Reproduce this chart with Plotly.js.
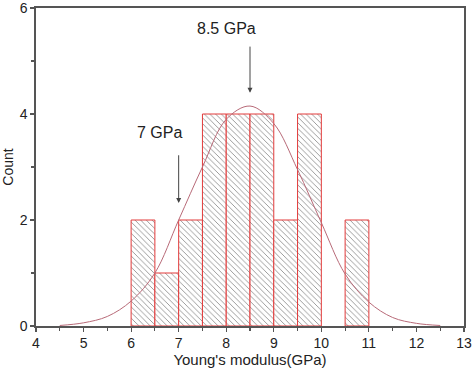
<!DOCTYPE html>
<html>
<head>
<meta charset="utf-8">
<script src="https://cdn.plot.ly/plotly-3.0.1.min.js"></script>
<style>html,body{margin:0;padding:0;background:#fff;}#chart{width:474px;height:372px;}</style>
</head>
<body>
<div id="chart"></div>
<script>
// Histogram bins (GPa) and counts
var binCenters = [6.25, 6.75, 7.25, 7.75, 8.25, 8.75, 9.25, 9.75, 10.75];
var counts = [2, 1, 2, 4, 4, 4, 2, 4, 2];
// Fitted normal curve
var curveX = [4.5, 5.0, 5.5, 6.0, 6.5, 7.0, 7.5, 8.0, 8.5, 9.0, 9.5, 10.0, 10.5, 11.0, 11.5, 12.0, 12.5];
var curveY = [0.01, 0.06, 0.18, 0.47, 1.0, 2.0, 3.0, 3.9, 4.15, 3.82, 2.95, 1.95, 0.98, 0.45, 0.16, 0.05, 0.01];
var xTicks = [4, 5, 6, 7, 8, 9, 10, 11, 12, 13];
var yTicks = [0, 2, 4, 6];

var axisColor = '#555555';
var traces = [
  {
    type: 'bar', x: binCenters, y: counts, width: 0.5,
    marker: {
      color: '#ffffff',
      line: {color: '#e23b3b', width: 1},
      pattern: {shape: '\\', fgcolor: '#8f8f8f', bgcolor: '#ffffff', size: 4, solidity: 0.22}
    },
    hoverinfo: 'x+y'
  },
  {
    type: 'scatter', mode: 'lines', x: curveX, y: curveY,
    line: {color: '#b86a78', width: 1, shape: 'spline', smoothing: 1}
  }
];

var layout = {
  width: 474, height: 372,
  margin: {l: 36, r: 10, t: 8, b: 46},
  paper_bgcolor: '#ffffff', plot_bgcolor: '#ffffff',
  showlegend: false,
  bargap: 0,
  font: {family: 'Liberation Sans, Arial, sans-serif', color: '#222222', size: 14},
  xaxis: {
    range: [4, 13], tickvals: xTicks, ticks: 'outside', ticklen: 4, tickwidth: 1.2, tickcolor: axisColor,
    showline: true, linecolor: axisColor, linewidth: 1.6, mirror: true, showgrid: false, zeroline: false,
    minor: {dtick: 0.5, ticks: 'outside', ticklen: 3, tickcolor: axisColor, showgrid: false},
    tickfont: {size: 14, color: '#222'}, ticklabeloverflow: 'allow',
    title: {text: "Young's modulus(GPa)", font: {size: 15, color: '#222'}, standoff: 4}
  },
  yaxis: {
    range: [0, 6], tickvals: yTicks, ticks: 'outside', ticklen: 4, tickwidth: 1.2, tickcolor: axisColor,
    showline: true, linecolor: axisColor, linewidth: 1.6, mirror: true, showgrid: false, zeroline: false,
    minor: {dtick: 1, ticks: 'outside', ticklen: 3, tickcolor: axisColor, showgrid: false},
    tickfont: {size: 14, color: '#222'}, ticklabeloverflow: 'allow',
    title: {text: 'Count', font: {size: 14, color: '#222'}, standoff: 4}
  },
  annotations: [
    {x: 8.0, y: 5.62, xref: 'x', yref: 'y', text: '8.5 GPa', showarrow: false, font: {size: 16, color: '#222'}},
    {x: 8.5, y: 4.4, xref: 'x', yref: 'y', ax: 8.5, ay: 5.3, axref: 'x', ayref: 'y', text: '', showarrow: true,
     arrowhead: 2, arrowsize: 1, arrowwidth: 1, arrowcolor: '#444'},
    {x: 6.6, y: 3.65, xref: 'x', yref: 'y', text: '7 GPa', showarrow: false, font: {size: 16, color: '#222'}},
    {x: 7.0, y: 2.32, xref: 'x', yref: 'y', ax: 7.0, ay: 3.25, axref: 'x', ayref: 'y', text: '', showarrow: true,
     arrowhead: 2, arrowsize: 1, arrowwidth: 1, arrowcolor: '#444'}
  ]
};

Plotly.newPlot('chart', traces, layout, {displayModeBar: false, staticPlot: true});
</script>
</body>
</html>
